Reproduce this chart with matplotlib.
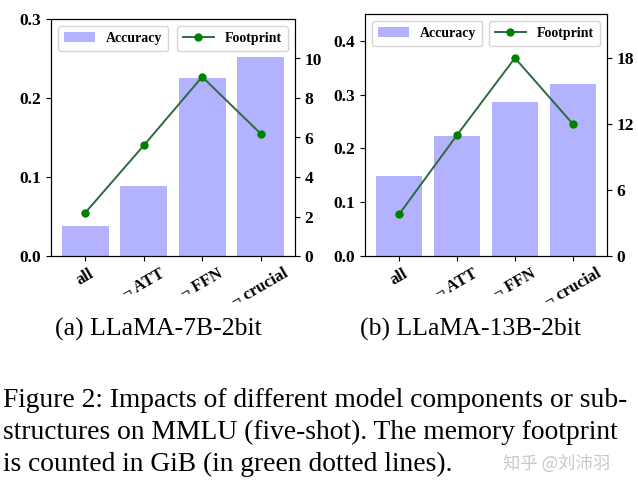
import matplotlib.pyplot as plt
import numpy as np

categories = ["all", "¬ ATT", "¬ FFN", "¬ crucial"]

acc_7b = [0.038, 0.088, 0.225, 0.252]
foot_7b = [2.2, 5.6, 9.07, 6.2]

acc_13b = [0.149, 0.223, 0.286, 0.320]
foot_13b = [3.8, 11.0, 18.0, 12.0]

W, H = 638, 490
serif = ["Liberation Serif", "DejaVu Serif"]
plt.rcParams['font.family'] = serif

fig = plt.figure(figsize=(W / 100, H / 100), dpi=100)


def panel(rect, acc, foot, ylim, yticks, y2lim, y2ticks):
    ax = fig.add_axes(rect)
    x = np.arange(len(categories))
    ax.bar(x, acc, width=0.8, color='blue', alpha=0.3, label='Accuracy')
    ax.set_ylim(*ylim)
    ax.set_yticks(yticks)
    ax.set_yticklabels([f"{t:.1f}" for t in yticks], fontsize=12.5, fontweight='bold')
    ax.set_xticks(x)
    ax.set_xticklabels(categories, rotation=30, fontsize=12, fontweight='bold')
    ax.legend(loc='upper left', prop={'weight': 'bold', 'size': 10, 'family': serif},
              handlelength=2.2, borderpad=0.45)

    ax2 = ax.twinx()
    ax2.plot(x, foot, color='#2d6a3e', marker='o', markersize=5,
             markerfacecolor='green', markeredgecolor='green', linewidth=1.4, label='Footprint')
    ax2.set_ylim(*y2lim)
    ax2.set_yticks(y2ticks)
    ax2.set_yticklabels([str(t) for t in y2ticks], fontsize=12.5, fontweight='bold')
    ax2.legend(loc='upper right', prop={'weight': 'bold', 'size': 10, 'family': serif},
               handlelength=2.2, borderpad=0.45)
    return ax, ax2


panel([51 / W, 1 - 256 / H, 244 / W, 237 / H], acc_7b, foot_7b,
      (0, 0.3), [0.0, 0.1, 0.2, 0.3], (0, 12), [0, 2, 4, 6, 8, 10])
panel([365 / W, 1 - 256 / H, 242 / W, 242 / H], acc_13b, foot_13b,
      (0, 0.45), [0.0, 0.1, 0.2, 0.3, 0.4], (0, 22), [0, 6, 12, 18])

fig.text(158 / W, 1 - 329 / H, "(a) LLaMA-7B-2bit", ha='center', va='center', fontsize=18.5)
fig.text(471 / W, 1 - 329 / H, "(b) LLaMA-13B-2bit", ha='center', va='center', fontsize=18.5)

caption = ["Figure 2: Impacts of different model components or sub-",
           "structures on MMLU (five-shot). The memory footprint",
           "is counted in GiB (in green dotted lines)."]
for i, line in enumerate(caption):
    fig.text(3 / W, 1 - (400 + 32 * i) / H, line, ha='left', va='center', fontsize=19.8)

fig.text(503 / W, 1 - 463 / H, "知乎 @刘沛羽", ha='left', va='center', fontsize=12.5,
         color='#c8c8c8', family=['Noto Sans CJK SC', 'DejaVu Sans'])

fig.savefig("out.png", dpi=100)
